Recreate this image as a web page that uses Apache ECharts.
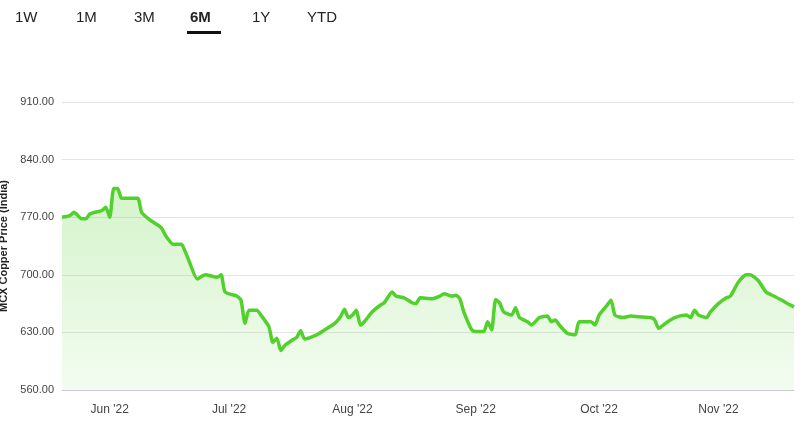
<!DOCTYPE html>
<html lang="en">
<head>
<meta charset="UTF-8">
<title>MCX Copper</title>
<script src="https://cdn.jsdelivr.net/npm/echarts@6/dist/echarts.min.js"></script>
<style>
    html, body { margin: 0; padding: 0; background: #fff; font-family: "Liberation Sans", Arial, sans-serif; }
    .tabs { position: absolute; left: 0; top: 0; height: 40px; width: 400px; }
    .tabs span { position: absolute; top: 8px; font-size: 15px; color: #222; }
    .tabs span.on { font-weight: bold; }
    .tabs .bar { position: absolute; left: 187px; top: 31px; width: 34px; height: 3px; background: #111; }
    #chart1 { position: absolute; left: 0; top: 0; width: 804px; height: 441px; }
</style>
</head>
<body>
<div id="chart1"></div>
<div class="tabs">
    <span style="left:15px">1W</span>
    <span style="left:76px">1M</span>
    <span style="left:134px">3M</span>
    <span class="on" style="left:190px">6M</span>
    <span style="left:252px">1Y</span>
    <span style="left:307px">YTD</span>
    <div class="bar"></div>
</div>
<script>
    // days counted from 1 Jun 2022
    var days = [-12,-10,-9,-7,-6,-5,-2,-1,0,1,2,3,7,8,10,13,14,16,18,19,20,22,24,27,28,29,32,33,34,35,37,38,40,41,42,43,44,46,47,48,49,52,54,56,57,58,59,60,61,62,63,64,66,68,69,71,72,74,76,77,78,81,83,84,86,87,88,89,91,92,94,95,96,97,98,99,101,102,103,105,106,108,110,111,112,113,115,117,118,121,122,123,125,126,127,129,131,133,136,137,138,140,142,145,146,147,148,150,151,153,155,156,158,160,161,163,165,167,169,170,172];
    var prices = [770,772,776,768,768,774,778,782,770,805,805,793,793,776,767,757,748,737,737,728,716,695,700,697,700,679,674,669,641,657,657,651,637,618,623,608,614,621,624,632,622,627,633,639,643,649,658,648,651,657,639,643,655,663,666,679,674,672,666,665,672,671,674,677,674,675,671,655,633,631,631,643,633,670,666,655,651,660,648,643,639,648,650,643,645,639,629,627,643,643,639,651,663,669,651,648,650,649,648,645,635,642,648,651,648,657,651,648,655,665,672,674,691,700,700,693,679,674,669,666,661];
    var monthTicks = [0, 30, 61, 92, 123, 153];
    var monthLabels = ["Jun '22", "Jul '22", "Aug '22", "Sep '22", "Oct '22", "Nov '22"];

    var seriesData = days.map(function (d, i) { return [d, prices[i]]; });

    var ctx1 = echarts.init(document.getElementById("chart1"));
    ctx1.setOption({
        animation: false,
        grid: { left: 62, right: 10, top: 102, bottom: 51, containLabel: false, outerBoundsMode: 'none' },
        xAxis: {
            type: 'value', min: -12, max: 172,
            splitLine: { show: false },
            axisLine: { show: true, lineStyle: { color: '#ccc' } },
            axisTick: { show: false, customValues: monthTicks },
            axisLabel: {
                customValues: monthTicks, color: '#444', fontSize: 12, margin: 14,
                formatter: function (v) { return monthLabels[monthTicks.indexOf(v)] || ''; }
            }
        },
        yAxis: {
            type: 'value', min: 560, max: 910, interval: 70,
            name: 'MCX Copper Price (India)', nameLocation: 'middle', nameGap: 52,
            nameTextStyle: { fontWeight: 'bold', fontSize: 11, color: '#222' },
            axisLine: { show: false }, axisTick: { show: false },
            splitLine: { lineStyle: { color: '#e4e4e4' } },
            axisLabel: { color: '#444', fontSize: 11, formatter: function (v) { return v.toFixed(2); } }
        },
        series: [{
            type: 'line', data: seriesData, symbol: 'none', smooth: 0.2,
            lineStyle: { color: '#52d12c', width: 3.5 },
            areaStyle: {
                color: new echarts.graphic.LinearGradient(0, 0, 0, 1, [
                    { offset: 0, color: 'rgba(82,209,44,0.35)' },
                    { offset: 1, color: 'rgba(82,209,44,0.10)' }
                ])
            }
        }]
    });
</script>
</body>
</html>
